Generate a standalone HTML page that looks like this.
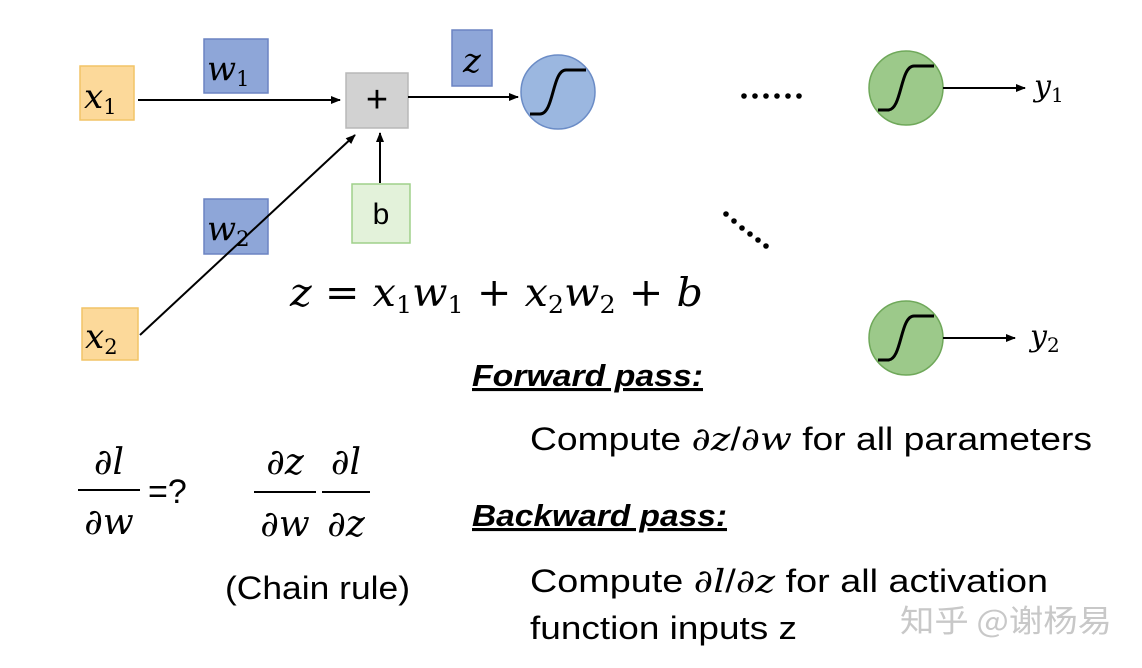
<!DOCTYPE html>
<html><head><meta charset="utf-8"><style>
html,body{margin:0;padding:0;background:#fff;}
svg{display:block}
.m{font-family:"DejaVu Serif","Liberation Serif",serif;font-style:italic;}
.s{font-family:"Liberation Sans","DejaVu Sans",sans-serif;}
</style></head><body>
<svg width="1142" height="668" viewBox="0 0 1142 668" xmlns="http://www.w3.org/2000/svg">
<defs>
<marker id="a" markerWidth="10" markerHeight="8" refX="9" refY="4" orient="auto" markerUnits="userSpaceOnUse">
<path d="M0,0 L10,4 L0,8 z" fill="#000"/></marker>
</defs>
<rect x="80" y="66" width="54" height="54" fill="#fcd99a" stroke="#f2c467" stroke-width="1.5"/>
<text x="84" y="108" class="m" font-size="34">x<tspan font-size="21" dy="6" font-style="normal">1</tspan></text>
<rect x="204" y="39" width="64" height="54" fill="#8ea6d8" stroke="#6b84c2" stroke-width="1.5"/>
<text x="207" y="80" class="m" font-size="34">w<tspan font-size="21" dy="6" font-style="normal">1</tspan></text>
<rect x="82" y="308" width="56" height="52" fill="#fcd99a" stroke="#f2c467" stroke-width="1.5"/>
<text x="85" y="348" class="m" font-size="34">x<tspan font-size="21" dy="6" font-style="normal">2</tspan></text>
<rect x="204" y="199" width="64" height="55" fill="#8ea6d8" stroke="#6b84c2" stroke-width="1.5"/>
<text x="207" y="240" class="m" font-size="34">w<tspan font-size="21" dy="6" font-style="normal">2</tspan></text>
<rect x="346" y="73" width="62" height="55" fill="#d2d2d2" stroke="#b8b8b8" stroke-width="1.5"/>
<text x="377" y="112" class="s" font-size="38" text-anchor="middle">+</text>
<rect x="452" y="30" width="40" height="56" fill="#8ea6d8" stroke="#6b84c2" stroke-width="1.5"/>
<text x="472" y="72" class="m" font-size="34" text-anchor="middle">z</text>
<rect x="352" y="184" width="58" height="59" fill="#e3f2da" stroke="#9fd08a" stroke-width="1.5"/>
<text x="381" y="224" class="s" font-size="30" text-anchor="middle">b</text>
<line x1="138" y1="100" x2="340" y2="100" stroke="#000" stroke-width="2" marker-end="url(#a)"/>
<line x1="408" y1="97" x2="518" y2="97" stroke="#000" stroke-width="2" marker-end="url(#a)"/>
<line x1="380" y1="183" x2="380" y2="133" stroke="#000" stroke-width="2" marker-end="url(#a)"/>
<line x1="140" y1="335" x2="355" y2="135" stroke="#000" stroke-width="2" marker-end="url(#a)"/>
<circle cx="558" cy="92" r="37" fill="#9bb7e0" stroke="#6b8cc6" stroke-width="1.5"/>
<path d="M530,114 L540,114 C554,114 552,70 566,70 L586,70" fill="none" stroke="#000" stroke-width="3"/>
<circle cx="906" cy="88" r="37" fill="#9cc98a" stroke="#6fa85a" stroke-width="1.5"/>
<path d="M878,110 L888,110 C902,110 900,66 914,66 L934,66" fill="none" stroke="#000" stroke-width="3"/>
<line x1="943" y1="88" x2="1025" y2="88" stroke="#000" stroke-width="2" marker-end="url(#a)"/>
<text x="1034" y="96" class="m" font-size="30">y<tspan font-size="20" dy="6" font-style="normal">1</tspan></text>
<circle cx="906" cy="338" r="37" fill="#9cc98a" stroke="#6fa85a" stroke-width="1.5"/>
<path d="M878,360 L888,360 C902,360 900,316 914,316 L934,316" fill="none" stroke="#000" stroke-width="3"/>
<line x1="943" y1="338" x2="1015" y2="338" stroke="#000" stroke-width="2" marker-end="url(#a)"/>
<text x="1030" y="346" class="m" font-size="30">y<tspan font-size="20" dy="6" font-style="normal">2</tspan></text>
<g fill="#000">
<circle cx="744" cy="96" r="2.8"/><circle cx="755" cy="96" r="2.8"/><circle cx="766" cy="96" r="2.8"/><circle cx="777" cy="96" r="2.8"/><circle cx="788" cy="96" r="2.8"/><circle cx="799" cy="96" r="2.8"/>
<circle cx="726" cy="214" r="2.8"/><circle cx="734" cy="221" r="2.8"/><circle cx="742" cy="228" r="2.8"/><circle cx="750" cy="234" r="2.8"/><circle cx="758" cy="240" r="2.8"/><circle cx="766" cy="246" r="2.8"/>
</g>
<text x="290" y="306" class="m" font-size="39" textLength="413" lengthAdjust="spacingAndGlyphs">z <tspan font-style="normal">=</tspan> x<tspan font-size="24" dy="7" font-style="normal">1</tspan><tspan dy="-7">w</tspan><tspan font-size="24" dy="7" font-style="normal">1</tspan><tspan dy="-7" font-style="normal"> + </tspan>x<tspan font-size="24" dy="7" font-style="normal">2</tspan><tspan dy="-7">w</tspan><tspan font-size="24" dy="7" font-style="normal">2</tspan><tspan dy="-7" font-style="normal"> + </tspan>b</text>
<text x="472" y="386" class="s" font-size="31" font-weight="bold" font-style="italic" text-decoration="underline" textLength="231" lengthAdjust="spacingAndGlyphs">Forward pass:</text>
<text x="530" y="450" class="s" font-size="32" textLength="562" lengthAdjust="spacingAndGlyphs">Compute <tspan class="m">∂z</tspan>/<tspan class="m">∂w</tspan> for all parameters</text>
<text x="472" y="526" class="s" font-size="31" font-weight="bold" font-style="italic" text-decoration="underline" textLength="255" lengthAdjust="spacingAndGlyphs">Backward pass:</text>
<text x="530" y="592" class="s" font-size="32" textLength="518" lengthAdjust="spacingAndGlyphs">Compute <tspan class="m">∂l</tspan>/<tspan class="m">∂z</tspan> for all activation</text>
<text x="530" y="639" class="s" font-size="32" textLength="267" lengthAdjust="spacingAndGlyphs">function inputs z</text>
<text x="109" y="474" class="m" font-size="36" text-anchor="middle">∂l</text>
<line x1="78" y1="490" x2="140" y2="490" stroke="#000" stroke-width="2"/>
<text x="109" y="534" class="m" font-size="36" text-anchor="middle">∂w</text>
<text x="148" y="503" class="s" font-size="34">=?</text>
<text x="285" y="474" class="m" font-size="36" text-anchor="middle">∂z</text>
<line x1="254" y1="492" x2="316" y2="492" stroke="#000" stroke-width="2"/>
<text x="285" y="536" class="m" font-size="36" text-anchor="middle">∂w</text>
<text x="346" y="474" class="m" font-size="36" text-anchor="middle">∂l</text>
<line x1="322" y1="492" x2="370" y2="492" stroke="#000" stroke-width="2"/>
<text x="346" y="536" class="m" font-size="36" text-anchor="middle">∂z</text>
<text x="225" y="599" class="s" font-size="32" textLength="185" lengthAdjust="spacingAndGlyphs">(Chain rule)</text>
<text x="900" y="632" font-family="'Noto Sans CJK SC',sans-serif" font-size="31" fill="#c8c8c8" textLength="212" lengthAdjust="spacingAndGlyphs">知乎 @谢杨易</text>
</svg>
</body></html>
